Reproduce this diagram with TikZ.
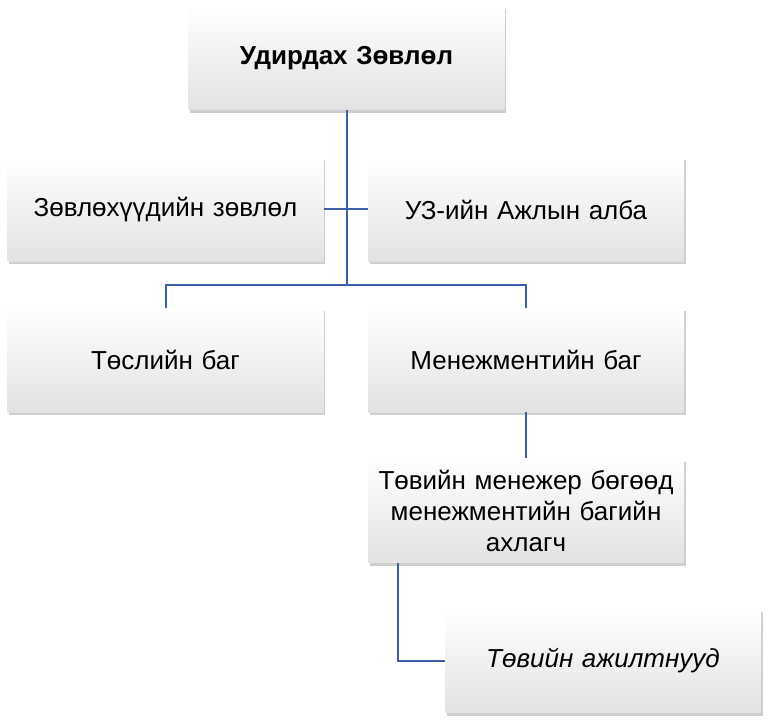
\documentclass[tikz,border=0pt]{standalone}
\usepackage{fontspec}
\setmainfont{Liberation Sans}
\usetikzlibrary{shadows}
\definecolor{conn}{RGB}{62,96,165}
\definecolor{boxtop}{RGB}{255,255,255}
\definecolor{boxbot}{RGB}{226,226,226}
\tikzset{
  orgbox/.style={draw=none, top color=boxtop, bottom color=boxbot, minimum width=316pt, minimum height=104pt, inner sep=0pt, align=center, font=\fontsize{26}{31}\selectfont, text width=314pt,
    drop shadow={shadow xshift=1.5pt, shadow yshift=-3pt, fill=black!35, opacity=0.55}},
  link/.style={draw=conn, line width=2pt}
}
\begin{document}
\begin{tikzpicture}[x=1pt,y=-1pt]
\useasboundingbox (0,0) rectangle (768,727);
\node[orgbox] (top) at (346.5,58) {\textbf{Удирдах Зөвлөл}};
\node[orgbox] (adv) at (165.5,209.5) {Зөвлөхүүдийн зөвлөл};
\node[orgbox] (off) at (526,209.5) {УЗ-ийн Ажлын алба};
\node[orgbox] (proj) at (165.5,360) {Төслийн баг};
\node[orgbox] (mgmt) at (526,360) {Менежментийн баг};
\node[orgbox] (mgr) at (526,510.5) {Төвийн менежер бөгөөд\\менежментийн багийн\\ахлагч};
\node[orgbox] (staff) at (603,660.5) {\textit{Төвийн ажилтнууд}};
\coordinate (j1) at (346.5,285);
\draw[link] (top.south) -- (j1);
\draw[link] (adv.east) -- (off.west);
\draw[link] (j1) -| (proj.north);
\draw[link] (j1) -| (mgmt.north);
\draw[link] (mgmt.south) -- (mgr.north);
\draw[link] (mgr.south -| 398,0) |- (staff.west);
\end{tikzpicture}
\end{document}
